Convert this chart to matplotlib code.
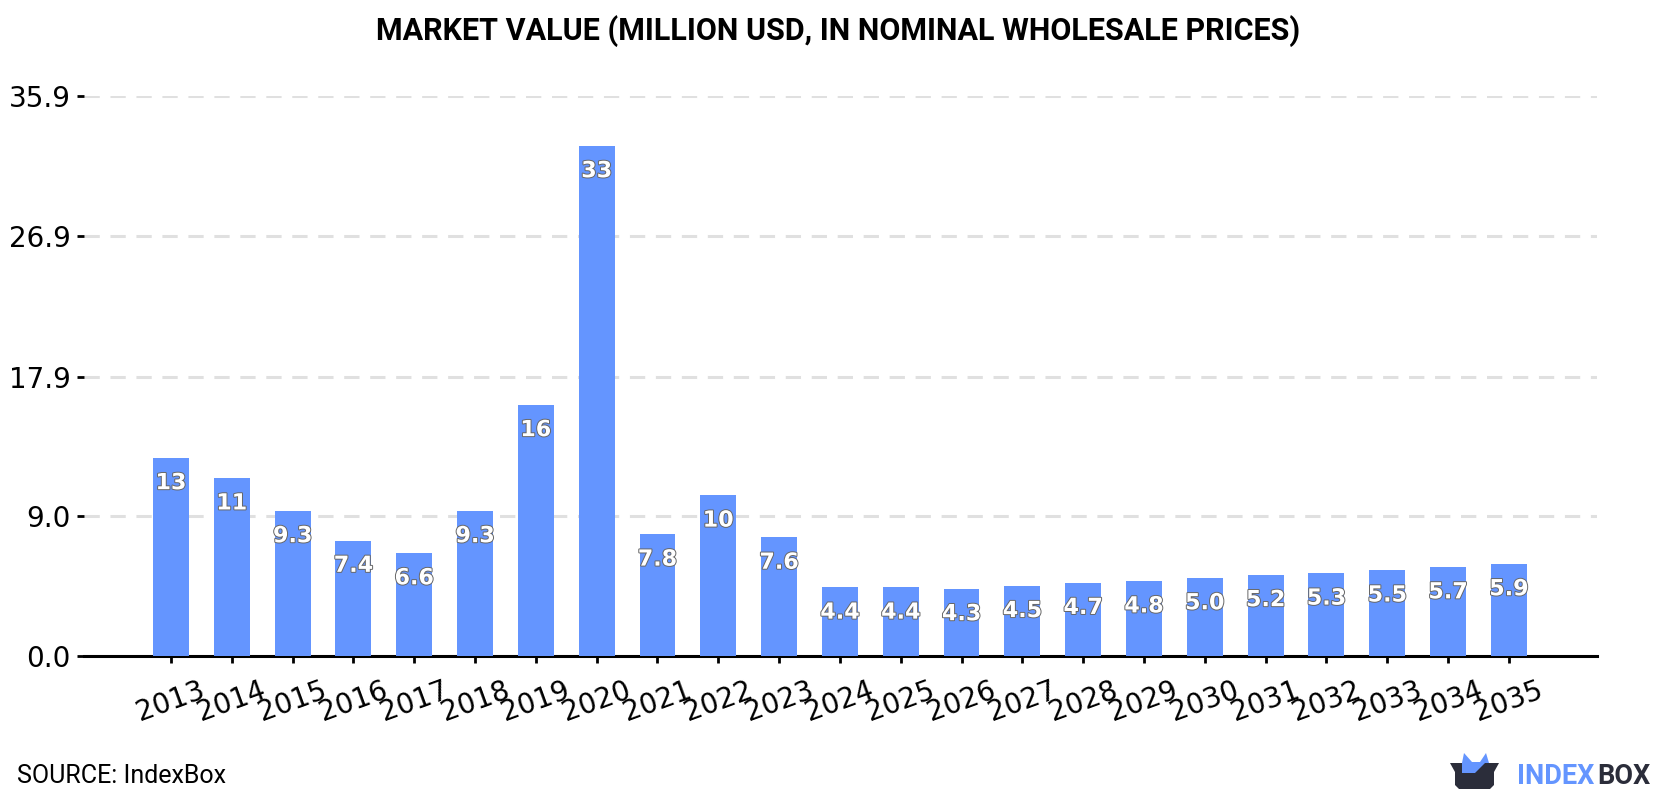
import matplotlib
matplotlib.use("Agg")
import matplotlib.pyplot as plt
import matplotlib.patheffects as pe
from matplotlib.patches import Polygon

years = list(range(2013, 2036))
values = [12.7, 11.4, 9.3, 7.4, 6.6, 9.3, 16.1, 32.7, 7.8, 10.3, 7.6, 4.4, 4.4, 4.3,
          4.5, 4.7, 4.8, 5.0, 5.2, 5.3, 5.5, 5.7, 5.9]
y_ticks = [0.0, 9.0, 17.9, 26.9, 35.9]

BLUE = "#6495ff"
DARK = "#2b2d3a"


def fmt(v):
    # two significant digits, as on the bars
    return f"{v:.0f}" if v >= 10 else f"{v:.1f}"


W, H = 1680, 800
fig = plt.figure(figsize=(W / 100, H / 100), dpi=100)
ax = fig.add_axes([84 / W, 1 - 656 / H, (1597 - 84) / W, (656 - 96) / H])

x = list(range(len(years)))
ax.bar(x, values, width=0.59, color=BLUE, zorder=3)
ax.set_xlim(-1.43, 23.45)
ax.set_ylim(0, 35.9)

ax.set_xticks(x)
ax.set_xticklabels(years, rotation=20, fontsize=20)
ax.set_yticks(y_ticks)
ax.set_yticklabels([f"{t:.1f}" for t in y_ticks], fontsize=20)
ax.tick_params(axis="x", length=5, width=2, pad=9.5)
ax.tick_params(axis="y", length=5, width=2, pad=4.5)
ax.grid(axis="y", color="#e0e0e0", linewidth=2.2, linestyle=(0, (5, 3.5)), zorder=1)
ax.set_axisbelow(True)
for side in ["top", "right", "left"]:
    ax.spines[side].set_visible(False)
ax.spines["bottom"].set_linewidth(2.2)

# value labels just under the top of each bar
for xi, v in zip(x, values):
    ax.annotate(fmt(v), (xi, v), xytext=(0, -11), textcoords="offset points",
                ha="center", va="top", fontsize=16, fontweight="bold", color="white",
                zorder=5, path_effects=[pe.withStroke(linewidth=1.4, foreground="#666666")])

fig.text(838 / W, 1 - 31 / H, "MARKET VALUE (MILLION USD, IN NOMINAL WHOLESALE PRICES)",
         ha="center", va="center", fontsize=22, fontweight="bold", family="Roboto")
fig.text(17 / W, 1 - 776 / H, "SOURCE: IndexBox", ha="left", va="center",
         fontsize=18, family="Roboto")

# logo, pixel coordinates
logo = fig.add_axes([0, 0, 1, 1], facecolor="none")
logo.set_xlim(0, W)
logo.set_ylim(H, 0)
logo.axis("off")
logo.add_patch(Polygon([(1462, 774), (1462, 763), (1464, 753), (1472, 762), (1480, 762),
                        (1486, 753), (1489, 763), (1476, 774)], color=BLUE, lw=0))
logo.add_patch(Polygon([(1450, 763), (1462, 763), (1462, 773), (1475, 773), (1485, 763),
                        (1499, 763), (1494, 772), (1494, 785), (1490, 789), (1459, 789),
                        (1455, 785), (1455, 772)], color=DARK, lw=0))
logo.text(1517, 776, "INDEX", ha="left", va="center", fontsize=19.5, fontweight="bold",
          family="Roboto", color=BLUE)
logo.text(1597, 776, "BOX", ha="left", va="center", fontsize=19.5, fontweight="bold",
          family="Roboto", color=DARK)

fig.savefig("out.png", dpi=100, facecolor="white")
